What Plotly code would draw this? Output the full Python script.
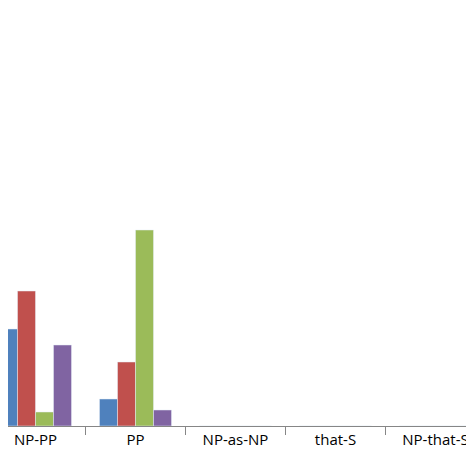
import plotly.graph_objects as go

categories = ["NP-PP", "PP", "NP-as-NP", "that-S", "NP-that-S"]
series_names = ["Series 1", "Series 2", "Series 3", "Series 4"]
colors = ["#4F81BD", "#C0504D", "#9BBB59", "#8064A2"]
values = [
    [97, 27, 0, 0, 0],
    [135, 64, 0, 0, 0],
    [14, 196, 0, 0, 0],
    [81, 16, 0, 0, 0],
]

fig = go.Figure()
for name, col, vals in zip(series_names, colors, values):
    fig.add_trace(go.Bar(x=categories, y=vals, name=name, marker_color=col,
                         legendgroup=name))

fig.update_layout(
    width=474, height=474,
    margin=dict(l=0, r=0, t=0, b=56, autoexpand=False),
    paper_bgcolor="white", plot_bgcolor="white",
    barmode="group", bargap=0.28, bargroupgap=0,
    font=dict(family="Open Sans, Liberation Sans, sans-serif", size=15, color="black"),
    showlegend=True,
    legend=dict(x=0.965, y=0.86, xanchor="left", yanchor="top",
                traceorder="grouped", tracegroupgap=22,
                font=dict(size=14), bgcolor="rgba(0,0,0,0)"),
)
fig.update_xaxes(range=[-0.275, 4.465], showline=True, linecolor="#868686",
                 ticks="outside", tickson="boundaries", ticklen=8, tickcolor="#868686",
                 showgrid=False)
fig.update_yaxes(range=[0, 418], visible=False, showgrid=False)
fig.write_html("out.html")
